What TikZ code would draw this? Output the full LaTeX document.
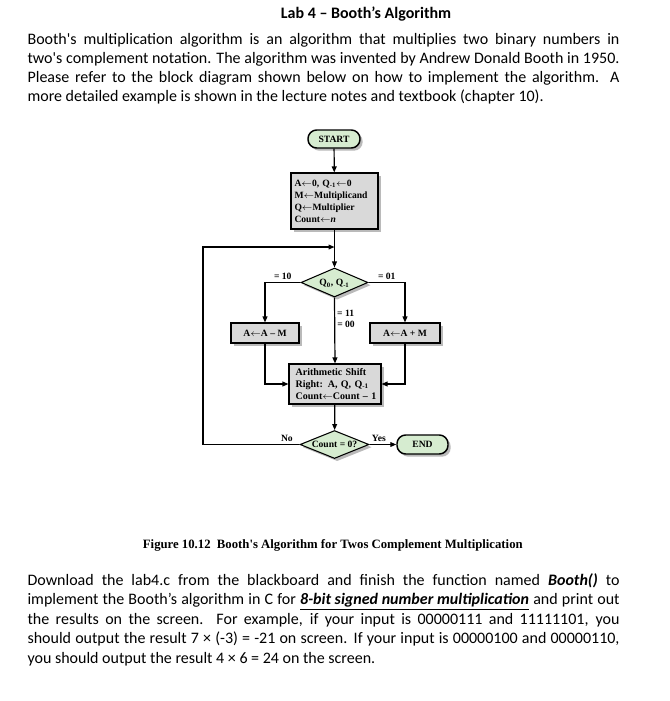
\documentclass[tikz,border=0pt]{standalone}
\usepackage{fontspec}
\setmainfont{Carlito}
\newfontfamily\tnr{Liberation Serif}
\usetikzlibrary{shapes.geometric,shadows,arrows.meta}
\definecolor{fcgreen}{RGB}{214,236,208}
\definecolor{fcgray}{RGB}{217,217,217}
\newcommand{\lar}{\ensuremath{\leftarrow}}
\newcommand{\sq}{\textquotesingle}
\newcommand{\dtext}[1]{\makebox[0pt]{\raisebox{-0.33em}[0pt][0pt]{#1}}}
\newcommand{\jline}[1]{\makebox[444pt][s]{#1}}
\tikzset{
  body/.style={anchor=base west, inner sep=0pt, font=\fontsize{12}{14.3}\selectfont},
  flow/.style={font=\tnr\bfseries\fontsize{7.2}{9}\selectfont},
  shad/.style={drop shadow={shadow xshift=2pt, shadow yshift=-2pt, fill=black!45, opacity=0.6}},
  term/.style={flow, shad, draw=black, line width=1.1pt, fill=fcgreen, rounded corners=6.5pt, inner sep=0pt},
  proc/.style={flow, shad, draw=black, line width=0.8pt, fill=fcgray, inner sep=2.5pt},
  dec/.style={flow, shad, diamond, draw=black, line width=0.8pt, fill=fcgreen, inner sep=0pt},
  lab/.style={flow, inner sep=1.5pt},
  conn/.style={line width=0.9pt, -{Triangle[length=4.5pt,width=3.6pt]}}
}
\begin{document}
\begin{tikzpicture}[x=0.75pt,y=-0.75pt]
\useasboundingbox[fill=white] (0,0) rectangle (669,701);

% title and first paragraph
\node[anchor=base west, inner sep=0pt, font=\bfseries\fontsize{12}{14}\selectfont] (title) at (280.7,18.3) {Lab 4 – Booth’s Algorithm};
\node[body] (p1a) at (27.3,44.3) {\jline{Booth\sq s multiplication algorithm is an algorithm that multiplies two binary numbers in}};
\node[body] (p1b) at (27.3,63.4) {\jline{two\sq s complement notation. The algorithm was invented by Andrew Donald Booth in 1950.}};
\node[body] (p1c) at (27.3,82.5) {\jline{Please refer to the block diagram shown below on how to implement the algorithm. A}};
\node[body] (p1d) at (27.3,101.6) {more detailed example is shown in the lecture notes and textbook (chapter 10).};

% flowchart
\node[term, minimum width=39pt, minimum height=13.5pt] (start) at (334,139) {START};
\node[proc, minimum width=65.25pt, minimum height=42pt, text width=60pt, align=left] (init) at (334.5,201)
  {A\lar0, Q\textsubscript{-1}\lar0\\M\lar Multiplicand\\Q\lar Multiplier\\Count\lar\textit{n}};
\coordinate (merge) at (334.5,247);
\node[dec, minimum width=50.25pt, minimum height=21.75pt] (d1) at (334.5,282.5) {\dtext{Q\textsubscript{0}, Q\textsubscript{-1}}};
\node[proc, minimum width=51pt, minimum height=15pt] (lb) at (265,333) {A\lar A – M};
\node[proc, minimum width=52.5pt, minimum height=15pt] (rb) at (405,333) {A\lar A + M};
\node[proc, minimum width=69pt, minimum height=30pt, text width=63pt, align=left, font=\tnr\bfseries\fontsize{7.5}{9}\selectfont] (ar) at (335,384)
  {\hspace*{2pt}Arithmetic Shift\\\hspace*{2pt}Right: A, Q, Q\textsubscript{-1}\\\hspace*{2pt}Count\lar Count~–~1};
\node[dec, minimum width=51.75pt, minimum height=21pt] (d2) at (334.5,444.5) {\dtext{Count = 0?}};
\node[term, minimum width=38.25pt, minimum height=14.25pt] (end) at (422.5,444.5) {END};
\coordinate (c1) at (203,444.5);
\coordinate (c2) at (203,247);

\draw[conn] (start) -- (init);
\draw[conn] (init.south) -- (d1.north);
\draw[conn] (d1.west) -| node[lab, above, pos=0.25] {= 10} (lb.north);
\draw[conn] (d1.east) -| node[lab, above, pos=0.25] {= 01} (rb.north);
\draw[conn] (d1.south) -- node[lab, anchor=west, pos=0.24] {= 11} node[lab, anchor=west, pos=0.41] {= 00} (ar.north);
\draw[conn] (lb.south) |- (ar.west);
\draw[conn] (rb.south) |- (ar.east);
\draw[conn] (ar) -- (d2);
\draw[conn] (d2) -- node[lab, above, pos=0.35] {Yes} (end);
\draw[conn] (d2.west) -- node[lab, above, pos=0.13] {No} (c1) -- (c2) -- (merge);

% caption
\node[anchor=base west, inner sep=0pt, font=\tnr\bfseries\fontsize{9.55}{11}\selectfont] (cap) at (142.7,548.3)
  {Figure 10.12\ \ Booth\sq s Algorithm for Twos Complement Multiplication};

% second paragraph
\node[body] (p2a) at (27.3,585.5) {\jline{Download the lab4.c from the blackboard and finish the function named \textbf{\textit{Booth()}} to}};
\node[body] (p2b) at (27.3,604.9) {\jline{implement the Booth’s algorithm in C for \underline{\textbf{\textit{8-bit signed number multiplication}}} and print out}};
\node[body] (p2c) at (27.3,624.3) {\jline{the results on the screen. For example, if your input is 00000111 and 11111101, you}};
\node[body] (p2d) at (27.3,643.7) {\jline{should output the result 7 × (-3) = -21 on screen. If your input is 00000100 and 00000110,}};
\node[body] (p2e) at (27.3,663.1) {you should output the result 4 × 6 = 24 on the screen.};
\end{tikzpicture}
\end{document}
